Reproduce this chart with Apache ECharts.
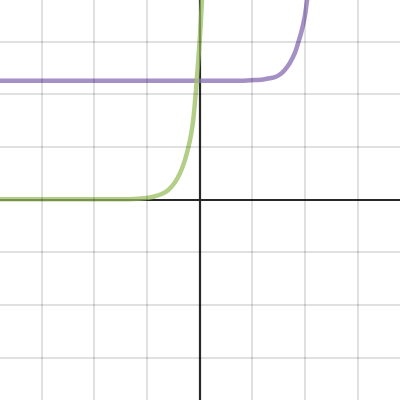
<!DOCTYPE html>
<html>
<head>
<meta charset="utf-8">
<script src="https://cdn.jsdelivr.net/npm/echarts@6/dist/echarts.min.js"></script>
<style>
html,body{margin:0;padding:0;background:#fff;}
#chart{width:400px;height:400px;}
</style>
</head>
<body>
<div id="chart"></div>
<script>
// Grid line positions (units)
var gridValues = [-3, -2, -1, 0, 1, 2, 3];

// Green curve
var greenX = [-3.9, -2.0, -1.5, -1.25, -0.999, -0.873, -0.714, -0.589, -0.475, -0.366, -0.272, -0.201, -0.152, -0.114, -0.063, 0.008, 0.051, 0.09];
var greenY = [0, 0, 0.002, 0.008, 0.0247, 0.0494, 0.101, 0.177, 0.304, 0.497, 0.750, 1.016, 1.257, 1.519, 2.077, 3.027, 3.784, 4.6];

// Purple curve
var purpleX = [-3.9, 0.8, 1.1, 1.243, 1.433, 1.53, 1.622, 1.717, 1.812, 1.875, 1.939, 2.002, 2.046, 2.09];
var purpleY = [2.25, 2.25, 2.266, 2.281, 2.319, 2.37, 2.457, 2.584, 2.774, 2.964, 3.184, 3.469, 3.786, 4.15];

function pairs(xs, ys) { return xs.map(function (x, i) { return [x, ys[i]]; }); }

var gridLines = [];
gridValues.forEach(function (v) {
  gridLines.push({ xAxis: v });
  gridLines.push({ yAxis: v });
});

var chart = echarts.init(document.getElementById('chart'), null, { renderer: 'canvas' });
chart.setOption({
  animation: false,
  backgroundColor: '#ffffff',
  grid: { left: 0, right: 0, top: 0, bottom: 0, containLabel: false },
  xAxis: {
    type: 'value', min: -3.784, max: 3.81, z: 1.5,
    axisLine: { show: true, onZero: true, lineStyle: { color: '#2e2e2e', width: 2.2 } },
    axisTick: { show: false }, axisLabel: { show: false }, splitLine: { show: false }
  },
  yAxis: {
    type: 'value', min: -3.81, max: 3.784, z: 1.5,
    axisLine: { show: true, onZero: true, lineStyle: { color: '#2e2e2e', width: 2.2 } },
    axisTick: { show: false }, axisLabel: { show: false }, splitLine: { show: false }
  },
  series: [
    {
      type: 'line', data: [], z: 1, silent: true,
      markLine: {
        silent: true, symbol: ['none', 'none'], label: { show: false },
        lineStyle: { color: 'rgba(0,0,0,0.12)', width: 2, type: 'solid' },
        emphasis: { disabled: true },
        data: gridLines
      }
    },
    {
      type: 'line', data: pairs(purpleX, purpleY), z: 2,
      showSymbol: false, smooth: 0.3,
      lineStyle: { color: 'rgba(145,120,185,0.82)', width: 4.5 }
    },
    {
      type: 'line', data: pairs(greenX, greenY), z: 3,
      showSymbol: false, smooth: 0.3,
      lineStyle: { color: 'rgba(160,195,105,0.8)', width: 4.5 }
    }
  ]
});
</script>
</body>
</html>
